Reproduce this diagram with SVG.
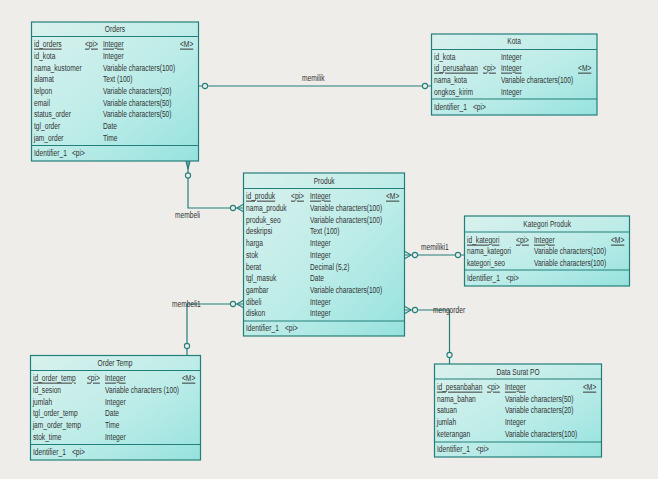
<svg xmlns="http://www.w3.org/2000/svg" width="658" height="479" viewBox="0 0 658 479">
<style>
text{font-family:"Liberation Sans",Arial,sans-serif;font-size:9.5px;fill:#333;transform-box:fill-box;transform:scaleX(.7);transform-origin:0 50%}
.c{text-anchor:middle;transform-origin:50% 50%}
.u{text-decoration:underline}
.box{fill:url(#g);stroke:#237f79;stroke-width:1.2}
.div{stroke:#237f79;stroke-width:1.1;fill:none}
.ln{stroke:#237f79;stroke-width:1.2;fill:none}
.lk{stroke:#237f79;stroke-width:1.1;fill:#eeedea}
</style>
<defs>
<linearGradient id="g" x1="0" y1="0" x2="1" y2="1">
<stop offset="0" stop-color="#d9f1ed"/>
<stop offset=".55" stop-color="#bcece8"/>
<stop offset="1" stop-color="#96e2de"/>
</linearGradient>
</defs>
<rect width="658" height="479" fill="#eeedea"/>
<g id="connectors">
<path class="ln" d="M198 86H431"/>
<circle class="lk" cx="205" cy="86" r="2.6"/>
<circle class="lk" cx="425" cy="86" r="2.6"/>
<path class="ln" d="M188 161V208H243"/>
<path class="ln" d="M186 161L188 169L190 161M237 208L243 204.500M237 208L243 211.500"/>
<circle class="lk" cx="188" cy="175.500" r="2.6"/>
<circle class="lk" cx="233" cy="208" r="2.6"/>
<path class="ln" d="M243 304H187V355"/>
<path class="ln" d="M237 304L243 300.500M237 304L243 307.500"/>
<circle class="lk" cx="233" cy="304" r="2.6"/>
<circle class="lk" cx="187" cy="346" r="2.6"/>
<path class="ln" d="M405 255H464"/>
<path class="ln" d="M411 255L405 251.500M411 255L405 258.500"/>
<circle class="lk" cx="415" cy="255" r="2.6"/>
<circle class="lk" cx="458" cy="255" r="2.6"/>
<path class="ln" d="M405 310H449.500V364"/>
<path class="ln" d="M411 310L405 306.500M411 310L405 313.500"/>
<circle class="lk" cx="415" cy="310" r="2.6"/>
<circle class="lk" cx="449.500" cy="355" r="2.6"/>
<text x="302" y="81">memilik</text>
<text x="175" y="218">membeli</text>
<text x="172" y="307">membeli1</text>
<text x="421" y="250">memiliki1</text>
<text x="433" y="313">mengorder</text>
</g>
<g id="orders">
<rect class="box" x="31.500" y="22" width="167" height="139"/>
<path class="div" d="M31.500 36.500H198.500M31.500 145.500H198.500"/>
<text class="c" x="115" y="32">Orders</text>
<text class="u" x="34" y="47.500">id_orders</text><text class="u" x="85" y="47.500">&lt;pi&gt;</text><text class="u" x="103" y="47.500">Integer</text><text class="u" x="180" y="47.500">&lt;M&gt;</text>
<text x="34" y="59.500">id_kota</text><text x="103" y="59.500">Integer</text>
<text x="34" y="71">nama_kustomer</text><text x="103" y="71">Variable characters(100)</text>
<text x="34" y="82.500">alamat</text><text x="103" y="82.500">Text (100)</text>
<text x="34" y="94.500">telpon</text><text x="103" y="94.500">Variable characters(20)</text>
<text x="34" y="106.500">email</text><text x="103" y="106.500">Variable characters(50)</text>
<text x="34" y="117.500">status_order</text><text x="103" y="117.500">Variable characters(50)</text>
<text x="34" y="129.500">tgl_order</text><text x="103" y="129.500">Date</text>
<text x="34" y="141.500">jam_order</text><text x="103" y="141.500">Time</text>
<text x="34" y="156.500">Identifier_1</text><text x="72" y="156.500">&lt;pi&gt;</text>
</g>
<g id="kota">
<rect class="box" x="431.500" y="34" width="165.500" height="81"/>
<path class="div" d="M431.500 49.500H597M431.500 99H597"/>
<text class="c" x="514" y="44">Kota</text>
<text x="434" y="60.500">id_kota</text><text x="501" y="60.500">Integer</text>
<text class="u" x="434" y="71.500">id_perusahaan</text><text class="u" x="483" y="71.500">&lt;pi&gt;</text><text class="u" x="501" y="71.500">Integer</text><text class="u" x="578" y="71.500">&lt;M&gt;</text>
<text x="434" y="83.500">nama_kota</text><text x="501" y="83.500">Variable characters(100)</text>
<text x="434" y="95.500">ongkos_kirim</text><text x="501" y="95.500">Integer</text>
<text x="434" y="110.500">Identifier_1</text><text x="473" y="110.500">&lt;pi&gt;</text>
</g>
<g id="produk">
<rect class="box" x="243.500" y="173" width="161" height="163"/>
<path class="div" d="M243.500 188.500H404.500M243.500 321H404.500"/>
<text class="c" x="324" y="184">Produk</text>
<text class="u" x="246" y="199.500">id_produk</text><text class="u" x="291" y="199.500">&lt;pi&gt;</text><text class="u" x="310" y="199.500">Integer</text><text class="u" x="386" y="199.500">&lt;M&gt;</text>
<text x="246" y="211.500">nama_produk</text><text x="310" y="211.500">Variable characters(100)</text>
<text x="246" y="223.500">produk_seo</text><text x="310" y="223.500">Variable characters(100)</text>
<text x="246" y="234.500">deskripsi</text><text x="310" y="234.500">Text (100)</text>
<text x="246" y="246.500">harga</text><text x="310" y="246.500">Integer</text>
<text x="246" y="258.500">stok</text><text x="310" y="258.500">Integer</text>
<text x="246" y="270.500">berat</text><text x="310" y="270.500">Decimal (5,2)</text>
<text x="246" y="281.500">tgl_masuk</text><text x="310" y="281.500">Date</text>
<text x="246" y="293.500">gambar</text><text x="310" y="293.500">Variable characters(100)</text>
<text x="246" y="305.500">dibeli</text><text x="310" y="305.500">Integer</text>
<text x="246" y="316.500">diskon</text><text x="310" y="316.500">Integer</text>
<text x="246" y="331.500">Identifier_1</text><text x="285" y="331.500">&lt;pi&gt;</text>
</g>
<g id="kategori-produk">
<rect class="box" x="464.500" y="216" width="165" height="70"/>
<path class="div" d="M464.500 232H629.500M464.500 270H629.500"/>
<text class="c" x="547" y="227">Kategori Produk</text>
<text class="u" x="467" y="243.500">id_kategori</text><text class="u" x="516" y="243.500">&lt;pi&gt;</text><text class="u" x="534" y="243.500">Integer</text><text class="u" x="611" y="243.500">&lt;M&gt;</text>
<text x="467" y="254.500">nama_kategori</text><text x="534" y="254.500">Variable characters(100)</text>
<text x="467" y="266.500">kategori_seo</text><text x="534" y="266.500">Variable characters(100)</text>
<text x="467" y="281.500">Identifier_1</text><text x="506" y="281.500">&lt;pi&gt;</text>
</g>
<g id="order-temp">
<rect class="box" x="30.500" y="355.500" width="170" height="104.500"/>
<path class="div" d="M30.500 370.500H200.500M30.500 444.500H200.500"/>
<text class="c" x="115" y="366">Order Temp</text>
<text class="u" x="33" y="381.500">id_order_temp</text><text class="u" x="87" y="381.500">&lt;pi&gt;</text><text class="u" x="105" y="381.500">Integer</text><text class="u" x="182" y="381.500">&lt;M&gt;</text>
<text x="33" y="393.500">id_sesion</text><text x="105" y="393.500">Variable characters (100)</text>
<text x="33" y="405.500">jumlah</text><text x="105" y="405.500">Integer</text>
<text x="33" y="416.500">tgl_order_temp</text><text x="105" y="416.500">Date</text>
<text x="33" y="428.500">jam_order_temp</text><text x="105" y="428.500">Time</text>
<text x="33" y="440.500">stok_time</text><text x="105" y="440.500">Integer</text>
<text x="33" y="455.500">Identifier_1</text><text x="72" y="455.500">&lt;pi&gt;</text>
</g>
<g id="data-surat-po">
<rect class="box" x="434.500" y="364" width="167" height="93"/>
<path class="div" d="M434.500 379H601.500M434.500 442H601.500"/>
<text class="c" x="518" y="375">Data Surat PO</text>
<text class="u" x="437" y="390.500">id_pesanbahan</text><text class="u" x="487" y="390.500">&lt;pi&gt;</text><text class="u" x="505" y="390.500">Integer</text><text class="u" x="583" y="390.500">&lt;M&gt;</text>
<text x="437" y="402.500">nama_bahan</text><text x="505" y="402.500">Variable characters(50)</text>
<text x="437" y="413.500">satuan</text><text x="505" y="413.500">Variable characters(20)</text>
<text x="437" y="425.500">jumlah</text><text x="505" y="425.500">Integer</text>
<text x="437" y="437.500">keterangan</text><text x="505" y="437.500">Variable characters(100)</text>
<text x="437" y="452.500">Identifier_1</text><text x="476" y="452.500">&lt;pi&gt;</text>
</g>
</svg>
